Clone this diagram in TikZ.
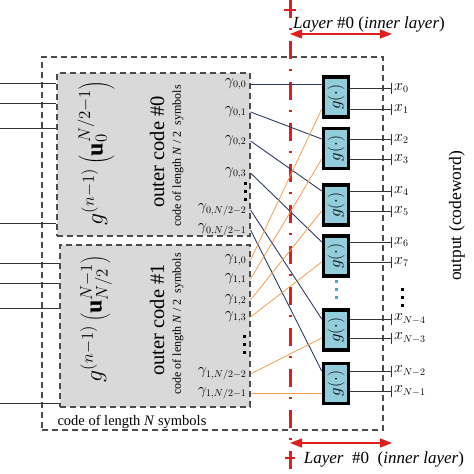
\RequirePackage{fix-cm}
\documentclass[tikz,border=0pt]{standalone}
\usepackage{fontspec}
\setmainfont{Liberation Serif}
\usepackage{graphicx}
\usepackage{tikz}
\usetikzlibrary{shapes, calc, arrows.meta}
\usepackage{xcolor}
\DeclareMathSizes{16}{16}{10}{8}
\definecolor{gblue}{RGB}{146,205,220}
\definecolor{codegray}{RGB}{217,217,217}
\definecolor{navyline}{RGB}{45,60,100}
\definecolor{orangeline}{RGB}{240,160,80}
\definecolor{layerred}{RGB}{225,30,30}
\definecolor{dotteal}{RGB}{75,172,198}

\begin{document}
\begin{tikzpicture}[x=1pt, y=-1pt]
	\tikzstyle{codelen}=[draw=black!70, dash pattern=on 6pt off 4pt, line width=1.1pt]
	\tikzstyle{outercode}=[codelen, fill=codegray]
	\tikzstyle{gnode}=[
	draw=black,
	line width=3.5pt,
	fill=gblue,
	minimum width=25pt,
	minimum height=40pt,
	inner sep=0pt,
	font=\fontsize{17}{20}\selectfont
	]
	\tikzstyle{gammalab}=[anchor=east, inner sep=1.5pt, font=\fontsize{16}{18}\selectfont]
	\tikzstyle{xout}=[anchor=west, inner sep=6pt, font=\fontsize{16}{18}\selectfont]
	\tikzstyle{wire}=[draw=black!80, line width=0.9pt]
	\tikzstyle{bluewire}=[draw=navyline, line width=0.9pt]
	\tikzstyle{orangewire}=[draw=orangeline, line width=0.8pt]
	\tikzstyle{outwire}=[wire, -{Bar[width=11pt, line width=1pt]}]
	\tikzstyle{layerline}=[draw=layerred, line width=3pt, dash pattern=on 18pt off 10pt on 2pt off 11pt]
	\tikzstyle{layerarrow}=[draw=layerred, fill=layerred, line width=1.3pt, {Triangle[length=12pt, width=9pt]}-{Triangle[length=12pt, width=9pt]}]
	\tikzstyle{layertext}=[font=\fontsize{17}{20}\selectfont]
	\useasboundingbox (0,0) rectangle (474,474);
	%
	\node[codelen, minimum width=341pt, minimum height=373pt] (codeN) at (212.5,243.5) {};
	\node[outercode, minimum width=193pt, minimum height=163pt] (code0) at (153.5,154.5) {};
	\node[outercode, minimum width=190pt, minimum height=162pt] (code1) at (155,326) {};
	\node[anchor=west, font=\fontsize{14.5}{16}\selectfont] (lenN) at (54,422) {code of length \textit{N} symbols};
	\node[rotate=90, font=\fontsize{24}{28}\selectfont] (map0) at (96,153) {$g^{(n-1)}\left(\mathbf{u}_0^{N/2-1}\right)$};
	\node[rotate=90, font=\fontsize{20.5}{24}\selectfont] (name0) at (157,152) {outer code \#0};
	\node[rotate=90, font=\fontsize{12}{14}\selectfont] (len0) at (178,156) {code of length \textit{N} / 2 \ symbols};
	\node[rotate=90, font=\fontsize{24}{28}\selectfont] (map1) at (96,319) {$g^{(n-1)}\left(\mathbf{u}_{N/2}^{N-1}\right)$};
	\node[rotate=90, font=\fontsize{20.5}{24}\selectfont] (name1) at (157,320) {outer code \#1};
	\node[rotate=90, font=\fontsize{12}{14}\selectfont] (len1) at (178,324) {code of length \textit{N} / 2 \ symbols};
	%
	\coordinate (in0) at (0,83);
	\coordinate (in1) at (0,103);
	\coordinate (in2) at (0,128);
	\coordinate (in3) at (0,223);
	\coordinate (in4) at (0,263);
	\coordinate (in5) at (0,283);
	\coordinate (in6) at (0,308);
	\coordinate (in7) at (0,403);
	\draw[wire] (in0) -- (code0.west |- in0);
	\draw[wire] (in1) -- (code0.west |- in1);
	\draw[wire] (in2) -- (code0.west |- in2);
	\draw[wire] (in3) -- (code0.west |- in3);
	\draw[wire] (in4) -- (code1.west |- in4);
	\draw[wire] (in5) -- (code1.west |- in5);
	\draw[wire] (in6) -- (code1.west |- in6);
	\draw[wire] (in7) -- (code1.west |- in7);
	%
	\node[gammalab] (ga0) at (248,84) {$\gamma_{0,0}$};
	\node[gammalab] (ga1) at (248,112) {$\gamma_{0,1}$};
	\node[gammalab] (ga2) at (248,141) {$\gamma_{0,2}$};
	\node[gammalab] (ga3) at (248,173) {$\gamma_{0,3}$};
	\node[gammalab] (ga4) at (248,210) {$\gamma_{0,N/2-2}$};
	\node[gammalab] (ga5) at (248,230) {$\gamma_{0,N/2-1}$};
	\node[gammalab] (gb0) at (248,260) {$\gamma_{1,0}$};
	\node[gammalab] (gb1) at (248,279) {$\gamma_{1,1}$};
	\node[gammalab] (gb2) at (248,300) {$\gamma_{1,2}$};
	\node[gammalab] (gb3) at (248,317) {$\gamma_{1,3}$};
	\node[gammalab] (gb4) at (248,374) {$\gamma_{1,N/2-2}$};
	\node[gammalab] (gb5) at (248,393) {$\gamma_{1,N/2-1}$};
	%
	\coordinate (redtop) at (290,0);
	\coordinate (redbot) at (290,474);
	\draw[layerline] (redtop) -- (redbot);
	\draw[layerred, line width=2pt] ($(redtop)+(-6,10)$) -- ($(redtop)+(6,10)$);
	\draw[layerred, line width=2pt] ($(redbot)+(-5,-16)$) -- ($(redbot)+(5,-16)$);
	%
	\node[gnode] (g0) at (336,97) {\rotatebox{90}{$g(\cdot)$}};
	\node[gnode] (g1) at (336,148.5) {\rotatebox{90}{$g(\cdot)$}};
	\node[gnode] (g2) at (336,205) {\rotatebox{90}{$g(\cdot)$}};
	\node[gnode] (g3) at (336,256) {\rotatebox{90}{$g(\cdot)$}};
	\node[gnode] (g4) at (336,330) {\rotatebox{90}{$g(\cdot)$}};
	\node[gnode] (g5) at (336,383.5) {\rotatebox{90}{$g(\cdot)$}};
	%
	\node[xout] (x0) at (388,88) {$x_0$};
	\node[xout] (x1) at (388,109) {$x_1$};
	\node[xout] (x2) at (388,139) {$x_2$};
	\node[xout] (x3) at (388,159) {$x_3$};
	\node[xout] (x4) at (388,191) {$x_4$};
	\node[xout] (x5) at (388,211) {$x_5$};
	\node[xout] (x6) at (388,242) {$x_6$};
	\node[xout] (x7) at (388,262) {$x_7$};
	\node[xout] (x8) at (388,319) {$x_{N-4}$};
	\node[xout] (x9) at (388,338) {$x_{N-3}$};
	\node[xout] (x10) at (388,371) {$x_{N-2}$};
	\node[xout] (x11) at (388,391) {$x_{N-1}$};
	\draw[outwire] (g0.east |- x0) -- ([xshift=4pt]x0.west);
	\draw[outwire] (g0.east |- x1) -- ([xshift=4pt]x1.west);
	\draw[outwire] (g1.east |- x2) -- ([xshift=4pt]x2.west);
	\draw[outwire] (g1.east |- x3) -- ([xshift=4pt]x3.west);
	\draw[outwire] (g2.east |- x4) -- ([xshift=4pt]x4.west);
	\draw[outwire] (g2.east |- x5) -- ([xshift=4pt]x5.west);
	\draw[outwire] (g3.east |- x6) -- ([xshift=4pt]x6.west);
	\draw[outwire] (g3.east |- x7) -- ([xshift=4pt]x7.west);
	\draw[outwire] (g4.east |- x8) -- ([xshift=4pt]x8.west);
	\draw[outwire] (g4.east |- x9) -- ([xshift=4pt]x9.west);
	\draw[outwire] (g5.east |- x10) -- ([xshift=4pt]x10.west);
	\draw[outwire] (g5.east |- x11) -- ([xshift=4pt]x11.west);
	%
	\draw[bluewire] (code0.east |- ga0) -- (g0.west |- ga0);
	\draw[bluewire] (code0.east |- ga1) -- (g1.west |- x2);
	\draw[bluewire] (code0.east |- ga2) -- (g2.west |- x4);
	\draw[bluewire] (code0.east |- ga3) -- (g3.west |- x6);
	\draw[bluewire] (code0.east |- ga4) -- (g4.west |- x8);
	\draw[bluewire] (code0.east |- ga5) -- (g5.west |- x10);
	\draw[orangewire] (code1.east |- gb0) -- (g0.west |- x1);
	\draw[orangewire] (code1.east |- gb1) -- (g1.west |- x3);
	\draw[orangewire] (code1.east |- gb2) -- (g2.west |- x5);
	\draw[orangewire] (code1.east |- gb3) -- (g3.west |- x7);
	\draw[orangewire] (code1.east |- gb4) -- (g4.west |- x9);
	\draw[orangewire] (code1.east |- gb5) -- (g5.west |- gb5);
	%
	\coordinate (dots0) at (245,191);
	\coordinate (dots1) at (244,344);
	\coordinate (dotsg) at (336,289);
	\coordinate (dotsx) at (402,297);
	\foreach \c/\col in {dots0/black, dots1/black, dotsg/dotteal, dotsx/black}
		\foreach \k in {-1,0,1}
			\fill[\col] ($(\c)+(-1.5,\k*8-1.5)$) rectangle +(3,3);
	%
	\coordinate (topL) at (290,34);
	\coordinate (topR) at (392,34);
	\coordinate (botL) at (290,443);
	\coordinate (botR) at (392,443);
	\draw[layerarrow] (topL) -- (topR);
	\draw[layerarrow] (botL) -- (botR);
	\node[layertext] (laytop) at (369,24) {\textit{Layer} \#0 (\textit{inner layer})};
	\node[layertext] (laybot) at (384,459) {\textit{Layer}\ \ \#0\ \ (\textit{inner layer})};
	\node[rotate=90, font=\fontsize{17.5}{20}\selectfont] (outlab) at (457,216) {output (codeword)};
\end{tikzpicture}
\end{document}
